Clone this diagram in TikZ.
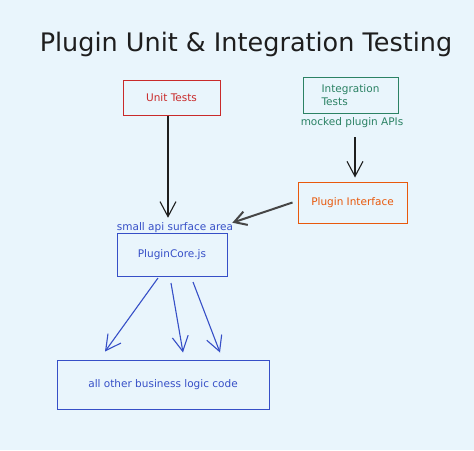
\documentclass[tikz,border=0pt]{standalone}
\usepackage{fontspec}
\setmainfont{DejaVu Sans}
\usetikzlibrary{arrows.meta}
\definecolor{bgc}{RGB}{233,245,252}
\definecolor{exred}{RGB}{201,42,42}
\definecolor{exgreen}{RGB}{43,130,100}
\definecolor{exorange}{RGB}{232,89,12}
\definecolor{exblue}{RGB}{54,79,199}
\definecolor{exblack}{RGB}{30,30,30}
\definecolor{exgray}{RGB}{70,70,70}
\tikzset{
  box/.style={draw, rectangle, inner sep=0pt, line width=1pt, font=\fontsize{10.5}{13}\selectfont},
  lbl/.style={inner sep=0pt, font=\fontsize{10.5}{13}\selectfont},
  arr/.style={line width=1.1pt, -{Straight Barb[length=15pt,width=16pt]}},
}
\begin{document}
\begin{tikzpicture}[x=1pt,y=-1pt]
\fill[bgc] (0,0) rectangle (474,450);
\useasboundingbox (0,0) rectangle (474,450);

\node[inner sep=0pt, font=\fontsize{25.5}{30}\selectfont, text=exblack] (title) at (246,44) {Plugin Unit \& Integration Testing};

\node[box, draw=exred, text=exred, minimum width=97pt, minimum height=35pt] (unit) at (171.5,97.5) {Unit Tests};
\node[box, draw=exgreen, text=exgreen, minimum width=95pt, minimum height=36pt, align=left] (integ) at (350.5,95) {Integration\\Tests};
\node[lbl, text=exgreen] (mocked) at (352,123) {mocked plugin APIs};
\node[box, draw=exorange, text=exorange, minimum width=109pt, minimum height=41pt] (iface) at (352.5,202.5) {Plugin Interface};
\node[lbl, text=exblue] (api) at (175,228) {small api surface area};
\node[box, draw=exblue, text=exblue, minimum width=110pt, minimum height=43pt] (core) at (172,254.5) {PluginCore.js};
\node[box, draw=exblue, text=exblue, minimum width=212pt, minimum height=49pt] (biz) at (163,384.5) {all other business logic code};

\draw[arr, exblack] ([xshift=-3.5pt]unit.south) -- ([xshift=-3.5pt,yshift=5pt]unit.south |- api.north);
\draw[arr, exblack] ([xshift=3pt,yshift=-9pt]mocked.south) -- ([xshift=3pt,yshift=4pt]mocked.south |- iface.north);
\draw[arr, exgray, line width=2pt, -{Straight Barb[length=12pt,width=14pt]}] ([xshift=-5pt]iface.west) -- ([xshift=-1pt,yshift=0pt]api.north east);

\draw[arr, exblue] ([xshift=-14pt,yshift=-1.5pt]core.south) -- ([xshift=-58pt,yshift=8pt]biz.north);
\draw[arr, exblue] ([xshift=-1pt,yshift=-6.5pt]core.south) -- ([xshift=20pt,yshift=7pt]biz.north);
\draw[arr, exblue] ([xshift=21pt,yshift=-5.5pt]core.south) -- ([xshift=57pt,yshift=7pt]biz.north);
\end{tikzpicture}
\end{document}
